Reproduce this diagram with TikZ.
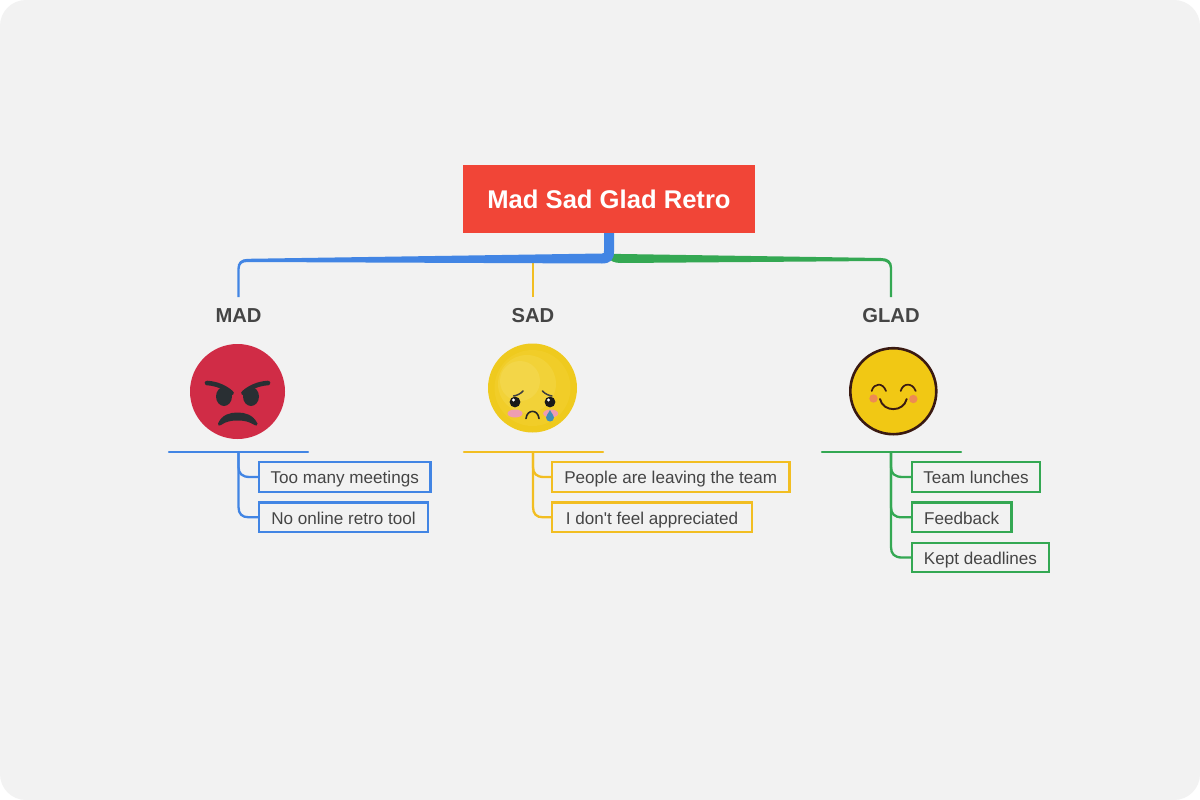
\documentclass[tikz,border=0pt]{standalone}
\usepackage{fontspec}
\setmainfont{Liberation Sans}[Ligatures=TeXOff]
\usetikzlibrary{calc}
\definecolor{bgc}{HTML}{F2F2F2}
\definecolor{rootc}{HTML}{F14537}
\definecolor{bluec}{HTML}{4285E4}
\definecolor{yellowc}{HTML}{F2BE22}
\definecolor{greenc}{HTML}{34A853}
\definecolor{textc}{HTML}{454545}
\definecolor{angry}{HTML}{D02C46}
\definecolor{ink}{HTML}{292F33}
\definecolor{sadout}{HTML}{EFCA1E}
\definecolor{sadmid}{HTML}{F1CD28}
\definecolor{sadin}{HTML}{F2D238}
\definecolor{pink}{HTML}{EE9DB2}
\definecolor{tear}{HTML}{3F8FB8}
\definecolor{gladf}{HTML}{F1C814}
\definecolor{gladink}{HTML}{3A1A12}
\definecolor{blush}{HTML}{EE8B52}
\tikzset{
  x=1pt,y=-1pt,
  rootbox/.style={fill=rootc,text=white,font=\bfseries\fontsize{25.6}{28}\selectfont,minimum width=292pt,minimum height=68pt,inner sep=0pt,outer sep=0pt},
  headlabel/.style={text=textc,font=\bfseries\fontsize{20.2}{22}\selectfont,inner sep=0pt},
  leafbox/.style={draw=#1,line width=2.2pt,text=textc,font=\fontsize{17.1}{20}\selectfont,minimum height=29.5pt,inner sep=0pt,outer sep=0pt,anchor=west,text height=15.5pt,text depth=2pt},
  branch/.style={draw=#1,line width=2.3pt,line cap=round},
  facedisc/.style={circle,inner sep=0pt,outer sep=0pt,minimum size=#1},
  inkline/.style={draw=#1,line cap=round,line join=round,fill=none},
}
\begin{document}
\begin{tikzpicture}
\useasboundingbox (0,0) rectangle (1200,800);
\fill[white] (0,0) rectangle (1200,800);
\fill[bgc,rounded corners=26pt] (0,0) rectangle (1200,800);

\node[rootbox] (root) at (609,199) {Mad Sad Glad Retro};
\node[headlabel] (mad) at (238.5,315.5) {MAD};
\node[headlabel] (sad) at (533,315.5) {SAD};
\node[headlabel] (glad) at (891,315.5) {GLAD};

% connector ends
\coordinate (madtop) at (238.5,297);
\coordinate (sadtop) at (533,297);
\coordinate (gladtop) at (891,297);
\coordinate (rootb) at (609,233);

% yellow
\draw[yellowc,line width=2.6pt] (sadtop) -- (533,259);
% green tapered
\fill[greenc] ($(rootb)+(0,19)$) .. controls ($(rootb)+(2,21)$) and ($(rootb)+(5,21)$) .. ($(rootb)+(12,21)$)
  -- (881,258) .. controls (888,258) and (892.2,261) .. (892.2,268) -- (892.2,297) -- (889.8,297) -- (889.8,268)
  .. controls (889.8,263) and (886,261) .. (881,261)
  -- ($(rootb)+(12,30)$) .. controls ($(rootb)+(5,30)$) and ($(rootb)+(1,28)$) .. ($(rootb)+(-1,24)$) -- cycle;
% blue tapered
\fill[bluec] ($(rootb)+(-5,0)$) -- ($(rootb)+(5,0)$) -- ($(rootb)+(5,19)$)
  .. controls ($(rootb)+(5,27)$) and ($(rootb)+(1,30.5)$) .. ($(rootb)+(-7,30.5)$)
  -- (248,262) .. controls (242,262) and (239.7,264) .. (239.7,269) -- (239.7,297) -- (237.3,297) -- (237.3,269)
  .. controls (237.3,262) and (241,258.8) .. (248,258.8)
  -- ($(rootb)+(-7,20.5)$) .. controls ($(rootb)+(-5,20.5)$) and ($(rootb)+(-5,20)$) .. ($(rootb)+(-5,18)$) -- cycle;

% MAD
\node[facedisc=95pt,fill=angry] (madface) at (237.5,391.5) {};
\fill[ink] (224,396.5) ellipse [x radius=8,y radius=9.5];
\fill[ink] (251,396.5) ellipse [x radius=8,y radius=9.5];
\draw[inkline=ink,line width=4.6pt] (207,383) .. controls (216,383.5) and (225,387) .. (231.5,393);
\draw[inkline=ink,line width=4.6pt] (268,383) .. controls (259,383.5) and (250,387) .. (243.5,393);
\fill[ink,line join=round] (218,423.5) .. controls (222,414.5) and (230,412.5) .. (237.5,412.5)
  .. controls (245,412.5) and (253,414.5) .. (257.5,423.5) .. controls (258,426) and (255.5,426) .. (254.5,425)
  .. controls (249,421.5) and (244,420.5) .. (237.5,420.5) .. controls (231,420.5) and (226,421.5) .. (221,425)
  .. controls (219.5,426) and (217.5,426) .. (218,423.5) -- cycle;

% SAD
\node[facedisc=89pt,fill=sadout] (sadface) at (532.5,388) {};
\fill[sadmid] (532.5,388) circle (38);
\fill[sadin] (527,384) circle (29);
\fill[sadin!92!white] (520,381) circle (20);
\fill[pink] (515,413.5) ellipse [x radius=7.5,y radius=4];
\fill[pink] (550.7,413.5) ellipse [x radius=7.5,y radius=4];
\fill[black!90] (515,402) circle (5.4);
\fill[black!90] (550,402) circle (5.4);
\fill[white] (513.5,400) circle (1.6);
\fill[white] (548.5,400) circle (1.6);
\draw[inkline=black!75,line width=1.5pt] (513.5,396) .. controls (517,395.5) and (521,393.5) .. (523,391);
\draw[inkline=black!75,line width=1.5pt] (552,396) .. controls (548.5,395.5) and (544.5,393.5) .. (542.5,391);
\draw[inkline=black!85,line width=1.6pt] (526,418.5) .. controls (527,409) and (538,409) .. (539,418.5);
\fill[tear] (550,410) .. controls (551.5,413.5) and (554,415) .. (554,417.5) .. controls (554,420) and (552.2,421.5) .. (550,421.5)
  .. controls (547.8,421.5) and (546,420) .. (546,417.5) .. controls (546,415) and (548.5,413.5) .. (550,410) -- cycle;

% GLAD
\node[facedisc=86pt,fill=gladf,draw=gladink,line width=2.6pt] (gladface) at (893.3,391.2) {};
\draw[inkline=gladink,line width=1.7pt] (871.7,391) .. controls (874,382.5) and (883,382.5) .. (886,391);
\draw[inkline=gladink,line width=1.7pt] (900.7,391) .. controls (903,382.5) and (912.5,382.5) .. (915.7,391);
\fill[blush] (873.5,398.5) circle (4.2);
\fill[blush] (913.3,399) circle (4.2);
\draw[inkline=gladink,line width=1.9pt] (880,399) .. controls (883,412.5) and (903.5,412.5) .. (906.7,399);

% leaves
\node[leafbox=bluec,minimum width=171.5pt] (m1) at (259,477) {Too many meetings};
\node[leafbox=bluec,minimum width=169pt] (m2) at (259,517.3) {No online retro tool};
\node[leafbox=yellowc,minimum width=237.5pt] (s1) at (552,477) {People are leaving the team};
\node[leafbox=yellowc,minimum width=200pt] (s2) at (552,517.3) {I don't feel appreciated};
\node[leafbox=greenc,minimum width=128pt] (g1) at (912,477) {Team lunches};
\node[leafbox=greenc,minimum width=99.5pt] (g2) at (912,517.3) {Feedback};
\node[leafbox=greenc,minimum width=137pt] (g3) at (912,557.5) {Kept deadlines};

% underlines and branches
\coordinate (mu1) at (169,452); \coordinate (mu2) at (308,452);
\coordinate (su1) at (464,452); \coordinate (su2) at (603,452);
\coordinate (gu1) at (822,452); \coordinate (gu2) at (961,452);
\coordinate (mj) at (238.5,452); \coordinate (sj) at (533,452); \coordinate (gj) at (891,452);
\draw[branch=bluec] (mu1) -- (mu2);
\draw[branch=yellowc] (su1) -- (su2);
\draw[branch=greenc] (gu1) -- (gu2);
\draw[branch=bluec,line cap=butt] (mj) -- (238.5,467) .. controls (238.5,473.5) and (242,477) .. (250,477) -- (m1.west);
\draw[branch=bluec,line cap=butt] (mj) -- (238.5,507) .. controls (238.5,514) and (242,517.3) .. (249,517.3) -- (m2.west);
\draw[branch=yellowc,line cap=butt] (sj) -- (533,467) .. controls (533,473.5) and (536.5,477) .. (544,477) -- (s1.west);
\draw[branch=yellowc,line cap=butt] (sj) -- (533,507) .. controls (533,514) and (536.5,517.3) .. (543,517.3) -- (s2.west);
\draw[branch=greenc,line cap=butt] (gj) -- (891,467) .. controls (891,473.5) and (894.5,477) .. (903,477) -- (g1.west);
\draw[branch=greenc,line cap=butt] (gj) -- (891,507) .. controls (891,514) and (894.5,517.3) .. (902,517.3) -- (g2.west);
\draw[branch=greenc,line cap=butt] (gj) -- (891,547) .. controls (891,554) and (894.5,557.5) .. (902,557.5) -- (g3.west);
\end{tikzpicture}
\end{document}
